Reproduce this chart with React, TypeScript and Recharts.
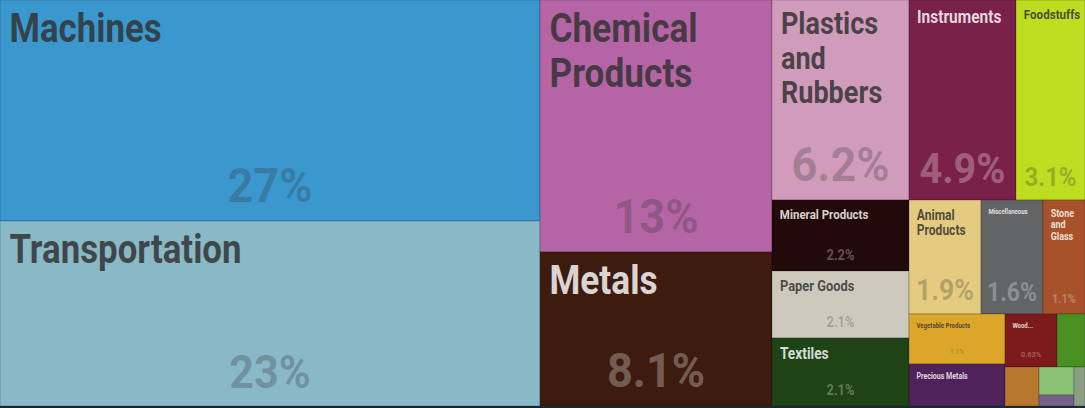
import React from 'react';
import { Treemap } from 'recharts';

const categories = [
  'Machines',
  'Transportation',
  'Chemical Products',
  'Metals',
  'Plastics and Rubbers',
  'Instruments',
  'Foodstuffs',
  'Mineral Products',
  'Paper Goods',
  'Textiles',
  'Animal Products',
  'Miscellaneous',
  'Stone and Glass',
  'Vegetable Products',
  'Precious Metals',
  'Wood Products',
  'Animal and Vegetable Bi-Products',
  'Animal Hides',
  'Footwear and Headwear',
  'Weapons',
  'Arts and Antiques',
];

const shares = [27.1, 22.7, 13.3, 8.1, 6.2, 4.86, 3.14, 2.2, 2.1, 2.1, 1.87, 1.6, 1.1, 1.1, 0.91, 0.63, 0.33, 0.3, 0.22, 0.09, 0.09];

const colors: Record<string, string> = {
  Machines: '#3a98cf',
  Transportation: '#89b8c7',
  'Chemical Products': '#b565a5',
  Metals: '#3d1b0f',
  'Plastics and Rubbers': '#d19cbc',
  Instruments: '#7a2149',
  Foodstuffs: '#bedc20',
  'Mineral Products': '#220a0b',
  'Paper Goods': '#cec9bd',
  Textiles: '#1f4315',
  'Animal Products': '#e4cb7f',
  Miscellaneous: '#636466',
  'Stone and Glass': '#a7522a',
  'Vegetable Products': '#dca62b',
  'Precious Metals': '#50225b',
  'Wood Products': '#7d1b1c',
  'Animal and Vegetable Bi-Products': '#4a9020',
  'Animal Hides': '#b8772f',
  'Footwear and Headwear': '#8cc275',
  Weapons: '#74628a',
  'Arts and Antiques': '#8b9d85',
};

// label font sizes (title, share); 0 = hidden
const labelStyle: Record<string, { t: number; p: number; ellipsis?: boolean }> = {
  Machines: { t: 40.5, p: 49 },
  Transportation: { t: 40.5, p: 47 },
  'Chemical Products': { t: 41, p: 49 },
  Metals: { t: 41, p: 49 },
  'Plastics and Rubbers': { t: 31.5, p: 49 },
  Instruments: { t: 18, p: 43 },
  Foodstuffs: { t: 13.5, p: 26 },
  'Mineral Products': { t: 13.4, p: 14 },
  'Paper Goods': { t: 15, p: 14 },
  Textiles: { t: 16, p: 14 },
  'Animal Products': { t: 14, p: 29 },
  Miscellaneous: { t: 7, p: 25 },
  'Stone and Glass': { t: 10.5, p: 12 },
  'Vegetable Products': { t: 7.1, p: 7 },
  'Wood Products': { t: 7, p: 8, ellipsis: true },
  'Precious Metals': { t: 8.2, p: 0 },
};

const data = categories.map((name, i) => ({ name, size: shares[i] }));

const FONT = "Roboto, 'Liberation Sans', sans-serif";
const SX_TITLE = 0.86;
const SX_PCT = 0.92;

let ctx: CanvasRenderingContext2D | null = null;
function measure(text: string, fs: number): number {
  if (!ctx) {
    const c = document.createElement('canvas');
    ctx = c.getContext('2d');
  }
  if (!ctx) return text.length * fs * 0.5 * SX_TITLE;
  ctx.font = `bold ${fs}px ${FONT}`;
  return ctx.measureText(text).width * SX_TITLE;
}

function wrap(text: string, fs: number, maxW: number): string[] {
  const words = text.split(' ');
  const lines: string[] = [];
  let cur = '';
  for (const w of words) {
    const test = cur ? cur + ' ' + w : w;
    if (cur && measure(test, fs) > maxW) {
      lines.push(cur);
      cur = w;
    } else {
      cur = test;
    }
  }
  if (cur) lines.push(cur);
  return lines;
}

function lum(hex: string): number {
  const r = parseInt(hex.slice(1, 3), 16);
  const g = parseInt(hex.slice(3, 5), 16);
  const b = parseInt(hex.slice(5, 7), 16);
  return 0.299 * r + 0.587 * g + 0.114 * b;
}

function fmt(v: number): string {
  if (v >= 10) return v.toFixed(0) + '%';
  if (v >= 1) return v.toFixed(1) + '%';
  return v.toFixed(2) + '%';
}

function CellContent(props: any) {
  const { x, y, width, height, depth, name } = props;
  if (depth !== 1 || !name) return null;
  const fill = colors[name] || '#888';
  const dark = lum(fill) > 115;
  const titleColor = dark ? 'rgba(51,51,51,0.85)' : 'rgba(255,255,255,0.82)';
  const pctColor = dark ? 'rgba(51,51,51,0.28)' : 'rgba(255,255,255,0.3)';
  const st = labelStyle[name];
  const idx = categories.indexOf(name);
  const v = shares[idx];
  let lines: string[] = [];
  let padL = 0;
  let padT = 0;
  if (st && st.t) {
    padL = 7 + st.t * 0.06;
    padT = 8 + st.t * 0.12;
    lines = st.ellipsis ? [name.split(' ')[0] + '...'] : wrap(name, st.t, width - 2 * padL);
  }
  return (
    <g>
      <rect x={x} y={y} width={width} height={height} fill={fill} stroke="rgba(0,0,0,0.22)" strokeWidth={1} />
      {st && st.t
        ? lines.map((ln, i) => (
            <text
              key={i}
              transform={`translate(${x + padL},${y + padT + st.t * 0.71 + i * st.t * 1.1}) scale(${SX_TITLE},1)`}
              fontFamily={FONT}
              fontWeight="bold"
              fontSize={st.t}
              fill={titleColor}
            >
              {ln}
            </text>
          ))
        : null}
      {st && st.p ? (
        <text
          transform={`translate(${x + width / 2},${y + height - (8 + st.p * 0.22)}) scale(${SX_PCT},1)`}
          textAnchor="middle"
          fontFamily={FONT}
          fontWeight="bold"
          fontSize={st.p}
          fill={pctColor}
        >
          {fmt(v)}
        </text>
      ) : null}
    </g>
  );
}

export default function App() {
  return (
    <div style={{ position: 'absolute', left: 0, top: 0, width: 1085, height: 408, background: '#1c2830' }}>
      <Treemap
        width={1085}
        height={406}
        data={data}
        dataKey="size"
        nameKey="name"
        isAnimationActive={false}
        content={<CellContent />}
      />
    </div>
  );
}
